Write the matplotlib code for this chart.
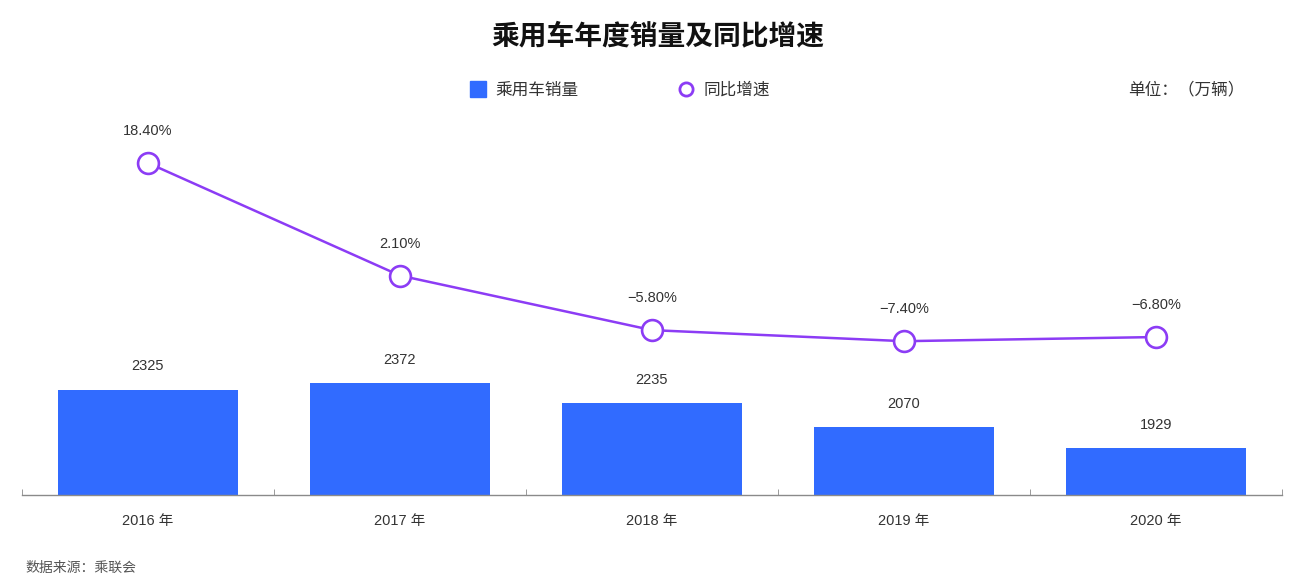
import matplotlib
matplotlib.use("Agg")
import matplotlib.pyplot as plt
from matplotlib.lines import Line2D

plt.rcParams['font.family'] = ['Noto Sans CJK SC', 'DejaVu Sans']
NUM_FONT = ['Liberation Sans', 'Noto Sans CJK SC', 'DejaVu Sans']

years = ["2016 年", "2017 年", "2018 年", "2019 年", "2020 年"]
sales = [2325, 2372, 2235, 2070, 1929]
growth = [18.4, 2.1, -5.8, -7.4, -6.8]
growth_labels = ["18.40%", "\u0032.10%", "\u22125.80%", "\u22127.40%", "\u22126.80%"]

title = "乘用车年度销量及同比增速"
bar_name = "乘用车销量"
line_name = "同比增速"
unit_text = "单位：（万辆）"
source_text = "数据来源：乘联会"

BAR_COLOR = "#316BFF"
LINE_COLOR = "#8C3CF5"
TEXT_COLOR = "#333333"

W, H = 1315, 587
fig = plt.figure(figsize=(W / 100, H / 100), dpi=100)

ax_left, ax_right = 22, 1282
ax_bottom_px, ax_top_px = 495, 100
ax = fig.add_axes([ax_left / W, (H - ax_bottom_px) / H,
                   (ax_right - ax_left) / W, (ax_bottom_px - ax_top_px) / H])

x = list(range(len(years)))
ax.bar(x, sales, width=0.714, color=BAR_COLOR, zorder=2)
ax.set_xlim(-0.5, len(years) - 0.5)
ax.set_ylim(1610, 4301)
for xi, v in zip(x, sales):
    ax.annotate(str(v), (xi, v), xytext=(0, 17), textcoords="offset points",
                ha="center", va="center", fontsize=10.5, color=TEXT_COLOR,
                family=NUM_FONT)

ax2 = ax.twinx()
ax2.set_ylim(-29.67, 27.52)
ax2.plot(x, growth, color=LINE_COLOR, lw=1.8, marker="o", markersize=15,
         markerfacecolor="white", markeredgecolor=LINE_COLOR, markeredgewidth=1.9,
         zorder=3)
for xi, v, lab in zip(x, growth, growth_labels):
    ax2.annotate(lab, (xi, v), xytext=(0, 23), textcoords="offset points",
                 ha="center", va="center", fontsize=10.5, color=TEXT_COLOR,
                 family=NUM_FONT)

for a in (ax, ax2):
    for s in ("top", "right", "left"):
        a.spines[s].set_visible(False)
    a.set_yticks([])
ax.spines["bottom"].set_color("#8a8a8a")
ax.spines["bottom"].set_linewidth(1.0)
ax2.spines["bottom"].set_visible(False)

ax.set_xticks(x)
ax.set_xticklabels(years, fontsize=10.5, color=TEXT_COLOR, family=NUM_FONT)
ax.tick_params(axis="x", length=0, pad=14)
ax.set_xticks([i - 0.5 for i in range(len(years) + 1)], minor=True)
ax.tick_params(axis="x", which="minor", direction="in", length=4, color="#8a8a8a")

fig.text(0.5, 1 - 36 / H, title, ha="center", va="center", fontsize=20,
         fontweight="heavy", color="#111111")
fig.text(1128 / W, 1 - 90 / H, unit_text, ha="left", va="center", fontsize=12,
         color=TEXT_COLOR)
fig.text(25 / W, 1 - 568 / H, source_text, ha="left", va="center", fontsize=10,
         color="#555555")

handles = [
    Line2D([], [], linestyle="none", marker="s", markersize=11,
           markerfacecolor=BAR_COLOR, markeredgecolor=BAR_COLOR),
    Line2D([], [], linestyle="none", marker="o", markersize=9.5,
           markerfacecolor="white", markeredgecolor=LINE_COLOR, markeredgewidth=2),
]
fig.legend(handles, [bar_name, line_name], ncol=2, frameon=False,
           loc="center left", bbox_to_anchor=(455 / W, 1 - 90 / H),
           fontsize=12, handlelength=1.0, handletextpad=0.5,
           columnspacing=6.0, labelcolor=TEXT_COLOR)

fig.savefig("out.png", dpi=100, facecolor="white")
